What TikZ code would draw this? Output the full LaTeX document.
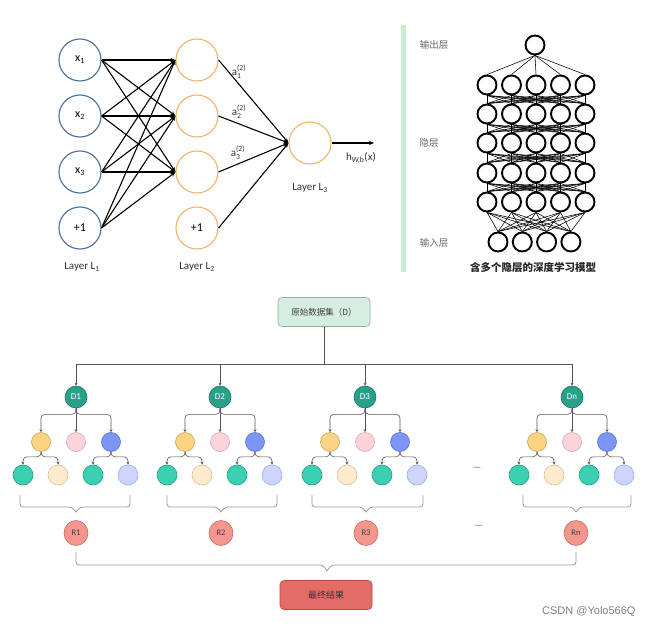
\documentclass[tikz,border=0pt]{standalone}
\usepackage{fontspec}
\usepackage{amsmath}
\setmainfont{Carlito}
\newfontfamily\cjk{Noto Sans CJK SC}
\newfontfamily\wm{Liberation Sans}
\usetikzlibrary{arrows.meta,shapes.geometric}
\definecolor{lonecol}{HTML}{4A6F9A}
\definecolor{ltwocol}{HTML}{F0B46A}
\definecolor{barcol}{HTML}{C8ECCC}
\definecolor{dtealf}{HTML}{2AA088}
\definecolor{dteald}{HTML}{1D7A66}
\definecolor{orgf}{HTML}{FCD383}
\definecolor{orgd}{HTML}{C9A35A}
\definecolor{pinkf}{HTML}{FBD3D8}
\definecolor{pinkd}{HTML}{D9A7AD}
\definecolor{bluef}{HTML}{7D95F7}
\definecolor{blued}{HTML}{5B6FCC}
\definecolor{tealf}{HTML}{3CCFB2}
\definecolor{teald}{HTML}{2A9C85}
\definecolor{creamf}{HTML}{FDEBCF}
\definecolor{creamd}{HTML}{D8C09A}
\definecolor{lavf}{HTML}{CDD5FB}
\definecolor{lavd}{HTML}{9FA9D8}
\definecolor{redf}{HTML}{F5968E}
\definecolor{redd}{HTML}{C26B64}
\definecolor{boxf}{HTML}{E46C67}
\definecolor{boxd}{HTML}{B04D48}
\definecolor{rootf}{HTML}{D6EEE0}
\definecolor{rootd}{HTML}{8FB39C}
\definecolor{linec}{HTML}{555555}
\definecolor{bracec}{HTML}{9A9A9A}
\begin{document}
\begin{tikzpicture}[x=1pt,y=-1pt,
  lone/.style={circle,draw=lonecol,line width=1.1pt,minimum size=42pt,inner sep=0pt,font=\fontsize{12}{14}\selectfont},
  ltwo/.style={circle,draw=ltwocol,line width=1.1pt,minimum size=42pt,inner sep=0pt,font=\fontsize{12}{14}\selectfont},
  nnedge/.style={line width=1.1pt,-{Stealth[length=5pt,width=4pt]}},
  lbl/.style={font=\fontsize{11}{13}\selectfont,text=black!80},
  dn/.style={circle,draw=black,line width=1.9pt,minimum size=19pt,inner sep=0pt},
  dedge/.style={line width=0.55pt},
  cjklbl/.style={font=\cjk\fontsize{9.5}{11}\selectfont,text=black!60},
  tnode/.style={circle,line width=0.6pt,inner sep=0pt},
  dnode/.style={tnode,fill=dtealf,draw=dteald,minimum size=22pt,text=white,font=\fontsize{9}{10}\selectfont},
  cnode/.style={tnode,minimum size=19pt},
  gnode/.style={tnode,minimum size=20pt},
  rnode/.style={ellipse,line width=0.6pt,inner sep=0pt,fill=redf,draw=redd,minimum width=24pt,minimum height=25pt,font=\fontsize{8.5}{10}\selectfont,text=black!75},
  tc/.style={draw=linec,line width=0.6pt,rounded corners=4pt,-{Stealth[length=3pt,width=3pt]}},
  brace/.style={draw=bracec,line width=0.8pt,rounded corners=3pt}
]
\useasboundingbox (0,0) rectangle (650,628);
\fill[white] (0,0) rectangle (650,628);

% ---------- shallow neural network ----------
\node[lone] (a1) at (80,60) {x\textsubscript{1}};
\node[lone] (a2) at (80,116) {x\textsubscript{2}};
\node[lone] (a3) at (80,172) {x\textsubscript{3}};
\node[lone] (a4) at (80,228) {+1};
\node[ltwo] (b1) at (197,60) {};
\node[ltwo] (b2) at (197,116) {};
\node[ltwo] (b3) at (197,172) {};
\node[ltwo] (b4) at (197,228) {+1};
\node[ltwo] (c1) at (310,143) {};
\coordinate (hout) at (374,143);
\foreach \i in {1,2,3,4}{
  \foreach \j in {1,2,3}{
    \draw[nnedge] (a\i.east) -- (b\j.west);
  }
  \draw[nnedge] (b\i.east) -- (c1.west);
}
\draw[nnedge] (c1.east) -- (hout);
\node[lbl] (hlab) at (361,158) {h\textsubscript{W,b}(x)};
\node[lbl,inner sep=0pt] (al1) at (239,72) {$\text{a}^{\text{(2)}}_{\text{1}}$};
\node[lbl,inner sep=0pt] (al2) at (239,112) {$\text{a}^{\text{(2)}}_{\text{2}}$};
\node[lbl,inner sep=0pt] (al3) at (238,153) {$\text{a}^{\text{(2)}}_{\text{3}}$};
\node[lbl] (ll1) at (82,267) {Layer L\textsubscript{1}};
\node[lbl] (ll2) at (197,267) {Layer L\textsubscript{2}};
\node[lbl] (ll3) at (310,188) {Layer L\textsubscript{3}};

% ---------- green bar ----------
\fill[barcol] (401,25) rectangle (406,272);

% ---------- deep network ----------
\node[dn] (o) at (535,45) {};
\foreach \r/\yy in {1/85,2/114,3/143,4/173,5/202}{
  \foreach \k in {1,...,5}{
    \node[dn] (h\r\k) at ({487+24.5*(\k-1)},\yy) {};
  }
}
\foreach \k in {1,...,4}{
  \node[dn] (in\k) at ({498+24.3*(\k-1)},242) {};
}
\foreach \k in {1,...,5}{ \draw[dedge] (o.south) -- (h1\k.north); }
\foreach \r/\s in {1/2,2/3,3/4,4/5}{
  \foreach \k in {1,...,5}{
    \foreach \m in {1,...,5}{ \draw[dedge] (h\r\k.south) -- (h\s\m.north); }
  }
}
\foreach \k in {1,...,5}{
  \foreach \m in {1,...,4}{ \draw[dedge] (h5\k.south) -- (in\m.north); }
}
\node[cjklbl] (tout) at (434,45) {输出层};
\node[cjklbl] (thid) at (429,143) {隐层};
\node[cjklbl] (tin) at (434,243) {输入层};
\node[font=\cjk\bfseries\fontsize{10.5}{12}\selectfont,text=black!85] (tcap) at (533,268) {含多个隐层的深度学习模型};

% ---------- random forest ----------
\node[draw=rootd,fill=rootf,rounded corners=4pt,line width=0.6pt,minimum width=92pt,minimum height=29pt,inner sep=1pt,font=\cjk\fontsize{8.5}{10}\selectfont,text=black!75] (root) at (324,312) {原始数据集（D）};
\coordinate (bus) at (324,364);
\foreach \dx/\nm in {76/1,220/2,365/3,572/n}{
  \node[dnode] (D\nm) at (\dx,397) {D\nm};
  \node[cnode,fill=orgf,draw=orgd] (A\nm) at (\dx-35,442) {};
  \node[cnode,fill=pinkf,draw=pinkd] (P\nm) at (\dx,442) {};
  \node[cnode,fill=bluef,draw=blued] (B\nm) at (\dx+35,442) {};
  \node[gnode,fill=tealf,draw=teald] (G\nm a) at (\dx-53,475) {};
  \node[gnode,fill=creamf,draw=creamd] (G\nm b) at (\dx-18,475) {};
  \node[gnode,fill=tealf,draw=teald] (G\nm c) at (\dx+17,475) {};
  \node[gnode,fill=lavf,draw=lavd] (G\nm d) at (\dx+52,475) {};
  \draw[tc] (D\nm.south) -- ++(0,6) -| (A\nm.north);
  \draw[tc] (D\nm.south) -- (P\nm.north);
  \draw[tc] (D\nm.south) -- ++(0,6) -| (B\nm.north);
  \draw[tc] (A\nm.south) -- ++(0,5) -| (G\nm a.north);
  \draw[tc] (A\nm.south) -- ++(0,5) -| (G\nm b.north);
  \draw[tc] (B\nm.south) -- ++(0,5) -| (G\nm c.north);
  \draw[tc] (B\nm.south) -- ++(0,5) -| (G\nm d.north);
  \draw[draw=linec,line width=0.6pt,-{Stealth[length=3pt,width=3pt]}] (bus -| D\nm.north) -- (D\nm.north);
}
\draw[draw=linec,line width=0.6pt] (root.south) -- (bus);
\draw[draw=linec,line width=0.6pt] (bus -| D1.north) -- (bus -| Dn.north);

% R nodes
\node[rnode] (R1) at (76,533) {R1};
\node[rnode] (R2) at (221,533) {R2};
\node[rnode] (R3) at (366,533) {R3};
\node[rnode] (Rn) at (576,533) {Rn};
\node[font=\fontsize{10}{12}\selectfont,text=black!55] (dots1) at (477,469) {—};
\node[font=\fontsize{10}{12}\selectfont,text=black!55] (dots2) at (479,527) {—};

% small braces
\foreach \l/\t/\r in {20/76/130, 167/221/277, 312/366/423, 523/576/631}{
  \draw[brace] (\l,495) -- (\l,507) -- (\t-4,507) -- (\t,512);
  \draw[brace] (\r,495) -- (\r,507) -- (\t+4,507) -- (\t,512);
}
% big brace
\draw[brace] (76,552) -- (76,565) -- (323,565) -- (327,571);
\draw[brace] (576,552) -- (576,565) -- (331,565) -- (327,571);

\node[draw=boxd,fill=boxf,rounded corners=4pt,line width=0.6pt,minimum width=92pt,minimum height=29pt,font=\cjk\fontsize{9}{10}\selectfont,text=black!80] (final) at (326,595) {最终结果};

\node[anchor=east,font=\wm\fontsize{11}{13}\selectfont,text=black!50] (wmk) at (639,612) {CSDN @Yolo566Q};
\end{tikzpicture}
\end{document}
